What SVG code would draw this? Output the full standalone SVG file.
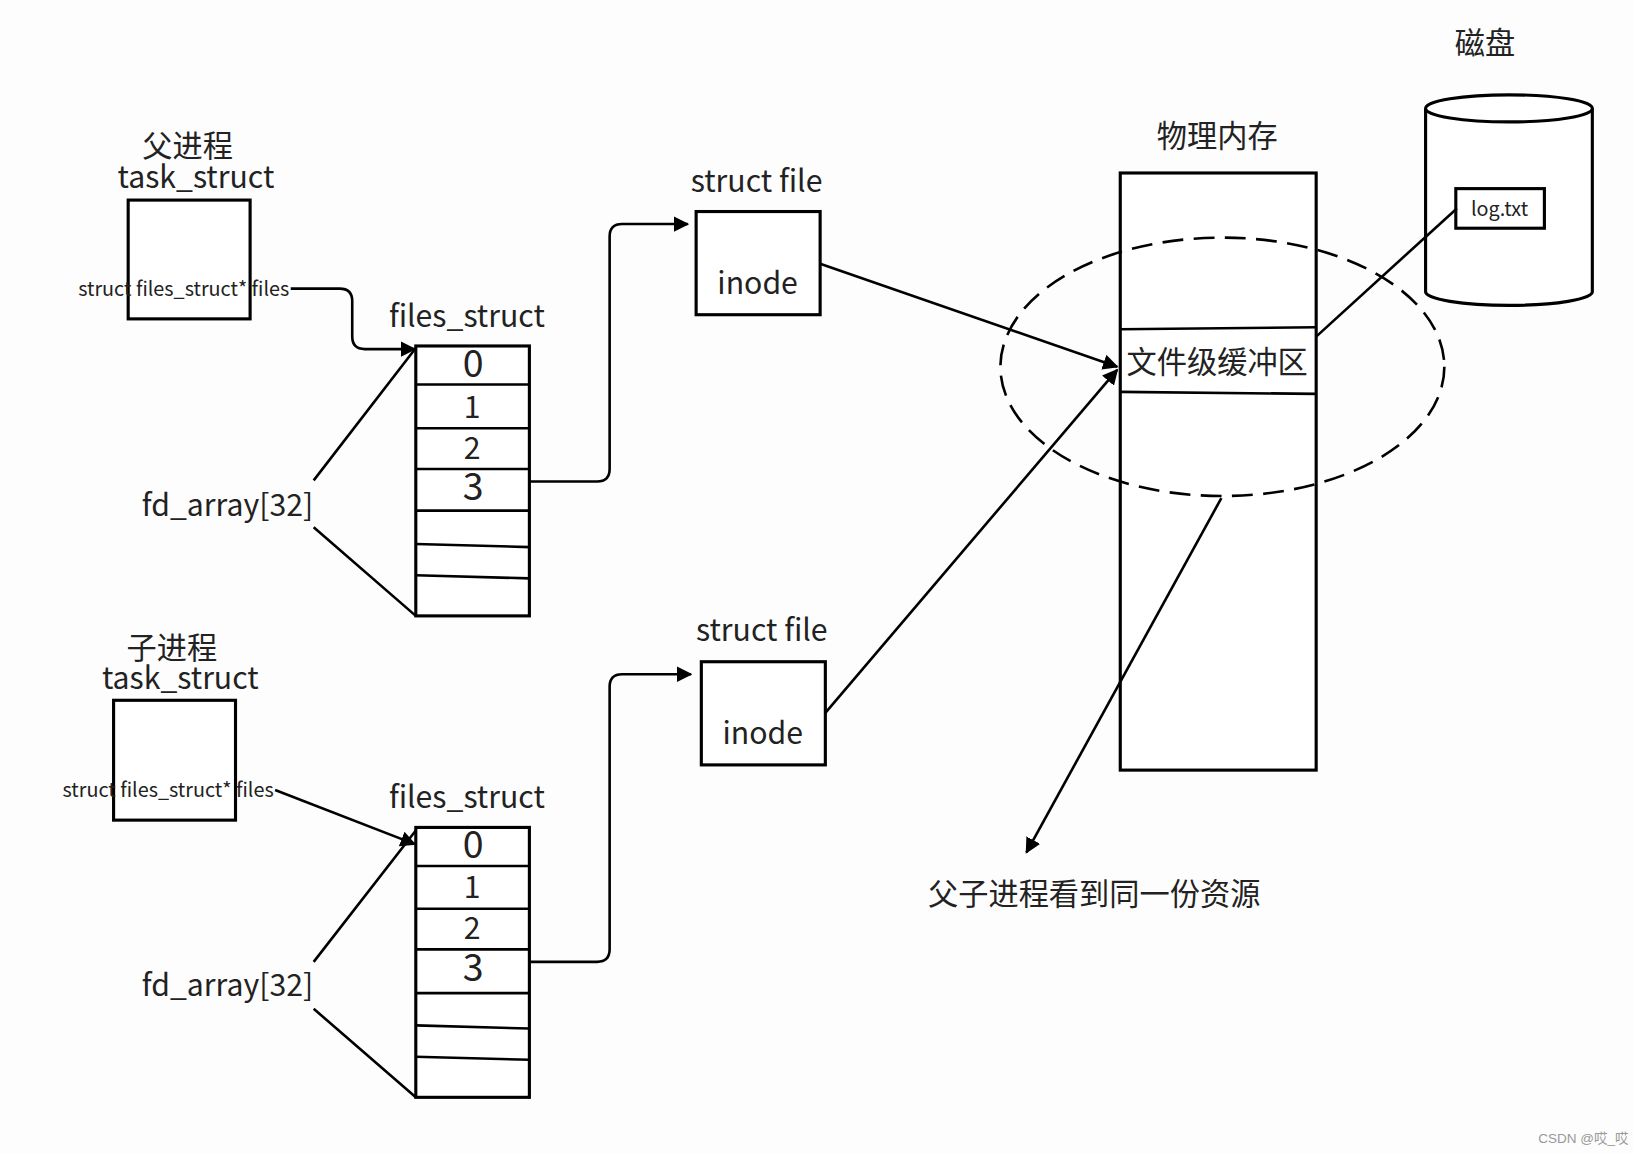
<svg xmlns="http://www.w3.org/2000/svg" width="1634" height="1154" viewBox="0 0 1634 1154">
<defs>
<style>
text{font-family:"Noto Sans CJK SC","Noto Sans",sans-serif;fill:#222}
.b{fill:#fff;stroke:#000;stroke-width:3}
.l{fill:none;stroke:#000;stroke-width:2.5}
.t{font-size:29px}
.s{font-size:19px}
.c{text-anchor:middle}
.n{font-size:36px}
</style>
<marker id="a" viewBox="0 0 10 10" refX="9" refY="5" markerWidth="6" markerHeight="6" orient="auto"><path d="M0 0L10 5L0 10z" fill="#000"/></marker>
</defs>
<rect width="1634" height="1154" fill="#fdfdfd"/>
<g transform="scale(1.0421)">
<g id="parent">
<text class="t c" x="180" y="151">父进程</text>
<text class="t c" x="188" y="180">task_struct</text>
<rect class="b" x="123" y="192" width="117" height="114"/>
<text class="s" x="75" y="284">struct files_struct* files</text>
</g>
<g id="fs1">
<text class="t c" x="448" y="314">files_struct</text>
<rect class="b" x="399" y="332" width="109" height="259"/>
<path class="l" d="M399 369H508M399 411H508M399 450H508M399 490H508M399 522L508 525M399 552L508 555"/>
<text class="n c" x="454" y="362">0</text>
<text class="t c" x="453" y="401">1</text>
<text class="t c" x="453" y="440">2</text>
<text class="n c" x="454" y="480">3</text>
<text class="t" x="136" y="495">fd_array[32]</text>
</g>
<g id="file1">
<text class="t c" x="726" y="184">struct file</text>
<rect class="b" x="668" y="203" width="119" height="99"/>
<text class="t c" x="727" y="282">inode</text>
</g>
<g id="child">
<text class="t c" x="165" y="632">子进程</text>
<text class="t c" x="173" y="661">task_struct</text>
<rect class="b" x="109" y="672" width="117" height="115"/>
<text class="s" x="60" y="765">struct files_struct* files</text>
</g>
<g id="fs2">
<text class="t c" x="448" y="775">files_struct</text>
<rect class="b" x="399" y="794" width="109" height="259"/>
<path class="l" d="M399 831H508M399 872H508M399 911H508M399 953H508M399 984L508 987M399 1014L508 1017"/>
<text class="n c" x="454" y="823">0</text>
<text class="t c" x="453" y="862">1</text>
<text class="t c" x="453" y="901">2</text>
<text class="n c" x="454" y="941">3</text>
<text class="t" x="136" y="956">fd_array[32]</text>
</g>
<g id="file2">
<text class="t c" x="731" y="615">struct file</text>
<rect class="b" x="673" y="635" width="119" height="99"/>
<text class="t c" x="732" y="714">inode</text>
</g>
<g id="memory">
<text class="t c" x="1168" y="141">物理内存</text>
<rect class="b" x="1075" y="166" width="188" height="573"/>
<path class="l" d="M1075 316L1263 314M1075 376L1263 378"/>
<text class="t c" x="1168" y="358">文件级缓冲区</text>
<ellipse cx="1173" cy="352" rx="213" ry="124" fill="none" stroke="#000" stroke-width="2.5" stroke-dasharray="20 10"/>
</g>
<g id="disk">
<text class="t c" x="1425" y="52">磁盘</text>
<path class="b" d="M1368 104V280A80 13 0 0 0 1528 280V104"/>
<ellipse class="b" cx="1448" cy="104" rx="80" ry="13"/>
<rect class="b" x="1397" y="181" width="85" height="38"/>
<text class="c" x="1439" y="207" style="font-size:19px">log.txt</text>
</g>
<text id="note" class="t c" x="1050" y="868">父子进程看到同一份资源</text>
<g id="connectors">
<path class="l" marker-end="url(#a)" d="M279 277H326Q338 277 338 289V323Q338 335 350 335H398"/>
<path class="l" d="M301 461L399 334M301 506L399 591M301 923L399 797M301 968L399 1053"/>
<path class="l" marker-end="url(#a)" d="M508 462H573Q585 462 585 450V227Q585 215 597 215H660"/>
<path class="l" marker-end="url(#a)" d="M787 253L1072 352"/>
<path class="l" marker-end="url(#a)" d="M264 758L398 810"/>
<path class="l" marker-end="url(#a)" d="M508 923H573Q585 923 585 911V659Q585 647 597 647H663"/>
<path class="l" marker-end="url(#a)" d="M792 684L1072 355"/>
<path class="l" d="M1398 200L1263 323"/>
<path class="l" marker-end="url(#a)" d="M1172 478L985 818"/>
</g>
<text x="1476" y="1097" style="font-size:13px;fill:#999;font-family:'Liberation Sans','Noto Sans CJK SC',sans-serif">CSDN @哎_哎</text>
</g>
</svg>
